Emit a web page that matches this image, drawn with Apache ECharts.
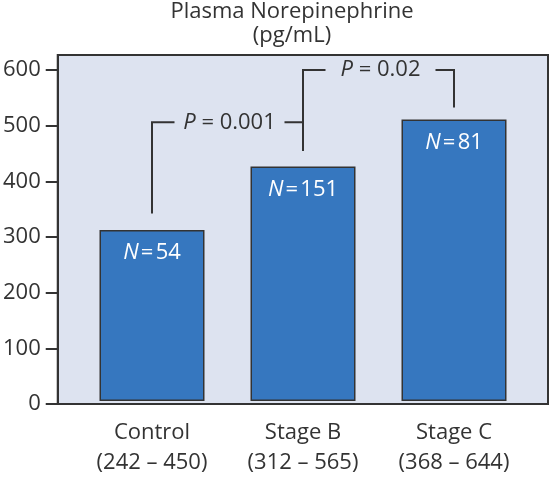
<!DOCTYPE html>
<html>
<head>
<meta charset="utf-8">
<script src="https://cdn.jsdelivr.net/npm/echarts@6/dist/echarts.min.js"></script>
<style>
html, body { margin: 0; padding: 0; background: #fff; }
#main { width: 550px; height: 478px; }
</style>
</head>
<body>
<div id="main"></div>
<script>
// ---- data ----
var categories = ['Control', 'Stage B', 'Stage C'];
var ranges = ['(242 – 450)', '(312 – 565)', '(368 – 644)'];
var meanValues = [310, 425, 510];
var sampleSizes = [54, 151, 81];
var yTickValues = [0, 100, 200, 300, 400, 500, 600];
var yMax = 627;

// brackets: from/to category index, height of the bar, low ends of the two legs
var bracketFrom = [0, 1];
var bracketTo = [1, 2];
var bracketTop = [505, 600];
var bracketFromEnd = [340, 453];
var bracketToEnd = [453, 532];
var pValues = ['0.001', '0.02'];

var FONT = 'Open Sans';
var INK = '#333333';

var bracketData = [];
for (var i = 0; i < bracketFrom.length; i++) {
	bracketData.push([bracketFrom[i], bracketTo[i], bracketTop[i], bracketFromEnd[i], bracketToEnd[i]]);
}

function renderBracket(params, api) {
	var top = api.value(2);
	var a = api.coord([api.value(0), top]);
	var b = api.coord([api.value(1), top]);
	var aEnd = api.coord([api.value(0), api.value(3)]);
	var bEnd = api.coord([api.value(1), api.value(4)]);
	var mid = (a[0] + b[0]) / 2 + 2;
	var half = 55; // gap left for the text
	var ls = { stroke: INK, lineWidth: 2, fill: null };
	return {
		type: 'group',
		children: [
			{ type: 'polyline', shape: { points: [aEnd, a, [mid - half, a[1]]] }, style: ls },
			{ type: 'polyline', shape: { points: [[mid + half, a[1]], b, bEnd] }, style: ls },
			{
				type: 'text',
				x: mid,
				y: a[1],
				style: {
					text: '{i|P} = ' + pValues[params.dataIndex],
					rich: { i: { fontStyle: 'italic', fontSize: 22, fontFamily: FONT, fill: INK } },
					fontSize: 22,
					fontFamily: FONT,
					fill: INK,
					align: 'center',
					verticalAlign: 'middle'
				}
			}
		]
	};
}

var myChart = echarts.init(document.getElementById('main'));
var option = {
	animation: false,
	title: {
		text: 'Plasma Norepinephrine\n(pg/mL)',
		left: 292,
		top: 0,
		padding: 0,
		textAlign: 'center',
		textStyle: { fontFamily: FONT, fontSize: 22, fontWeight: 'normal', color: INK, lineHeight: 24 }
	},
	grid: [
		// frame with the shaded background
		{ left: 54, right: 2, top: 55, bottom: 74, show: true, backgroundColor: '#dde3f0', borderColor: INK, borderWidth: 2 },
		// bars
		{ left: 76.5, width: 453, top: 55, bottom: 74 }
	],
	xAxis: [
		{ gridIndex: 0, type: 'value', show: false, min: 0, max: 1 },
		{
			gridIndex: 1,
			type: 'category',
			data: categories,
			axisLine: { show: false },
			axisTick: { show: false },
			axisLabel: {
				margin: 17,
				fontFamily: FONT,
				fontSize: 22,
				lineHeight: 30,
				color: INK,
				formatter: function (v, idx) { return v + '\n' + ranges[idx]; }
			}
		}
	],
	yAxis: [
		{
			gridIndex: 0,
			type: 'value',
			min: 0,
			max: yMax,
			interval: 100,
			splitLine: { show: false },
			axisLine: { show: true, lineStyle: { color: INK, width: 2 } },
			axisTick: { show: true, length: 12, lineStyle: { color: INK, width: 2 }, customValues: yTickValues },
			axisLabel: { margin: 17, fontFamily: FONT, fontSize: 22, color: INK, customValues: yTickValues }
		},
		{ gridIndex: 1, type: 'value', min: 0, max: yMax, show: false, splitLine: { show: false } }
	],
	series: [
		{
			type: 'bar',
			xAxisIndex: 1,
			yAxisIndex: 1,
			data: meanValues,
			barWidth: 105,
			itemStyle: { color: '#3677bf', borderColor: INK, borderWidth: 1.5 },
			label: {
				show: true,
				position: 'insideTop',
				distance: 12,
				color: '#fff',
				fontFamily: FONT,
				fontSize: 22,
				formatter: function (p) { return '{i|N}\u200a=\u200a' + sampleSizes[p.dataIndex]; },
				rich: { i: { fontStyle: 'italic', color: '#fff', fontFamily: FONT, fontSize: 22 } }
			}
		},
		{
			type: 'custom',
			xAxisIndex: 1,
			yAxisIndex: 1,
			renderItem: renderBracket,
			data: bracketData,
			z: 5
		}
	]
};
myChart.setOption(option);
</script>
</body>
</html>
